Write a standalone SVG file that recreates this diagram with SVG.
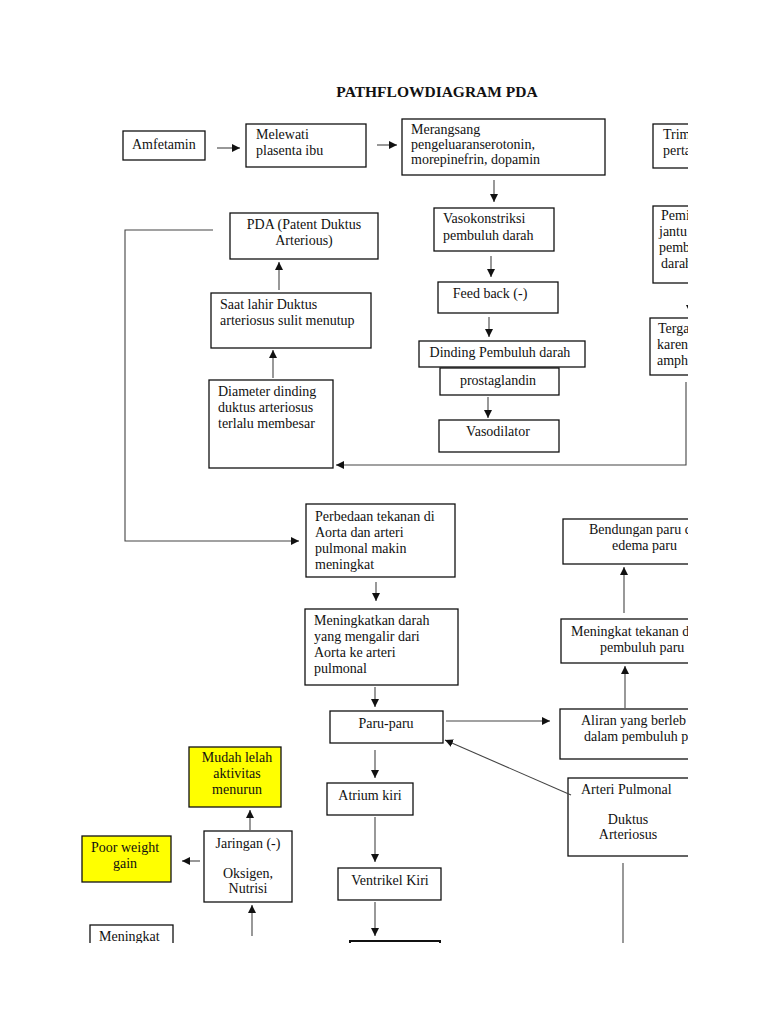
<svg xmlns="http://www.w3.org/2000/svg" width="768" height="1024" viewBox="0 0 768 1024">
<style>
.b{fill:#fff;stroke:#111;stroke-width:1.3}
.y{fill:#ffff00;stroke:#111;stroke-width:1.3}
text{font-family:"Liberation Serif","Times New Roman",serif;font-size:14px;fill:#111}
.c{text-anchor:middle}
.ln{fill:none;stroke:#444;stroke-width:1.1}
.t{font-size:15.5px;font-weight:bold}
</style>
<defs>
<marker id="ah" markerUnits="userSpaceOnUse" markerWidth="10" markerHeight="10" refX="8" refY="4" orient="auto">
<path d="M0,0 L8,4 L0,8 Z" fill="#111"/>
</marker>
<clipPath id="pg"><rect x="0" y="0" width="688" height="943"/></clipPath>
</defs>
<rect width="768" height="1024" fill="#fff"/>
<g clip-path="url(#pg)">
<text class="t c" x="437" y="97">PATHFLOWDIAGRAM PDA</text>

<g id="n-amfetamin"><rect class="b" x="123" y="131" width="82" height="29"/><text x="132" y="149">Amfetamin</text></g>
<g id="n-plasenta"><rect class="b" x="246" y="124" width="120" height="43"/><text x="256" y="139">Melewati</text><text x="256" y="155">plasenta ibu</text></g>
<g id="n-merangsang"><rect class="b" x="402" y="119" width="203" height="56"/><text x="411" y="134">Merangsang</text><text x="411" y="149">pengeluaranserotonin,</text><text x="411" y="164">morepinefrin, dopamin</text></g>
<g id="n-vasokon"><rect class="b" x="434" y="208" width="120" height="43"/><text x="443" y="223">Vasokonstriksi</text><text x="443" y="240">pembuluh darah</text></g>
<g id="n-feedback"><rect class="b" x="438" y="282" width="120" height="31"/><text class="c" x="490" y="298">Feed back (-)</text></g>
<g id="n-dinding"><rect class="b" x="419" y="341" width="166" height="26"/><text class="c" x="500" y="357">Dinding Pembuluh darah</text></g>
<g id="n-prosta"><rect class="b" x="440" y="368" width="119" height="27"/><text class="c" x="498" y="385">prostaglandin</text></g>
<g id="n-vasodil"><rect class="b" x="439" y="420" width="120" height="32"/><text class="c" x="498" y="436">Vasodilator</text></g>

<g id="n-pda"><rect class="b" x="230" y="213" width="148" height="46"/><text class="c" x="304" y="229">PDA (Patent Duktus</text><text class="c" x="304" y="245">Arterious)</text></g>
<g id="n-saat"><rect class="b" x="211" y="293" width="160" height="55"/><text x="220" y="309">Saat lahir Duktus</text><text x="220" y="325">arteriosus sulit menutup</text></g>
<g id="n-diameter"><rect class="b" x="209" y="380" width="124" height="88"/><text x="218" y="396">Diameter dinding</text><text x="218" y="412">duktus arteriosus</text><text x="218" y="428">terlalu membesar</text></g>

<g id="n-trim"><rect class="b" x="653" y="124" width="100" height="44"/><text x="663" y="139">Trim</text><text x="663" y="155">perta</text></g>
<g id="n-pem"><rect class="b" x="653" y="206" width="100" height="77"/><text x="661" y="220">Pemi</text><text x="659" y="236">jantu</text><text x="659" y="252">pemb</text><text x="661" y="268">darah</text></g>
<g id="n-terga"><rect class="b" x="650" y="318" width="100" height="57"/><text x="658" y="333">Terga</text><text x="657" y="349">karen</text><text x="657" y="365">amph</text></g>

<g id="n-perbedaan"><rect class="b" x="306" y="504" width="149" height="73"/><text x="315" y="521">Perbedaan tekanan di</text><text x="315" y="537">Aorta dan arteri</text><text x="315" y="553">pulmonal makin</text><text x="315" y="569">meningkat</text></g>
<g id="n-meningkatkan"><rect class="b" x="305" y="609" width="153" height="76"/><text x="314" y="625">Meningkatkan darah</text><text x="314" y="641">yang mengalir dari</text><text x="314" y="657">Aorta ke arteri</text><text x="314" y="673">pulmonal</text></g>
<g id="n-paru"><rect class="b" x="330" y="711" width="113" height="32"/><text class="c" x="386" y="728">Paru-paru</text></g>
<g id="n-atrium"><rect class="b" x="327" y="783" width="86" height="32"/><text class="c" x="370" y="800">Atrium kiri</text></g>
<g id="n-ventrikel"><rect class="b" x="338" y="868" width="103" height="32"/><text class="c" x="390" y="885">Ventrikel Kiri</text></g>
<g id="n-bottom"><rect class="b" x="350" y="941" width="90" height="40" style="stroke-width:2"/></g>

<g id="n-bendungan"><rect class="b" x="563" y="519" width="200" height="45"/><text x="589" y="534">Bendungan paru d</text><text x="612" y="550">edema paru</text></g>
<g id="n-tekanan"><rect class="b" x="561" y="619" width="200" height="44"/><text x="571" y="636">Meningkat tekanan d</text><text x="600" y="652">pembuluh paru</text></g>
<g id="n-aliran"><rect class="b" x="560" y="709" width="200" height="50"/><text x="581" y="725">Aliran yang berleb</text><text x="584" y="741">dalam pembuluh p</text></g>
<g id="n-arteri"><rect class="b" x="568" y="778" width="200" height="78"/><text x="581" y="794">Arteri Pulmonal</text><text class="c" x="628" y="824">Duktus</text><text class="c" x="628" y="839">Arteriosus</text></g>

<g id="n-mudah"><rect class="y" x="189" y="747" width="92" height="60"/><text class="c" x="237" y="762">Mudah lelah</text><text class="c" x="237" y="778">aktivitas</text><text class="c" x="237" y="794">menurun</text></g>
<g id="n-jaringan"><rect class="b" x="204" y="831" width="88" height="71"/><text class="c" x="248" y="848">Jaringan (-)</text><text class="c" x="248" y="878">Oksigen,</text><text class="c" x="248" y="893">Nutrisi</text></g>
<g id="n-poor"><rect class="y" x="82" y="836" width="89" height="46"/><text class="c" x="125" y="852">Poor weight</text><text class="c" x="125" y="868">gain</text></g>
<g id="n-meningkat"><rect class="b" x="90" y="925" width="83" height="40"/><text x="99" y="941">Meningkat</text></g>

<g id="connectors">
<line class="ln" x1="217" y1="148" x2="240" y2="148" marker-end="url(#ah)"/>
<line class="ln" x1="377" y1="145" x2="397" y2="145" marker-end="url(#ah)"/>
<line class="ln" x1="494" y1="180" x2="494" y2="202" marker-end="url(#ah)"/>
<line class="ln" x1="491" y1="256" x2="491" y2="277" marker-end="url(#ah)"/>
<line class="ln" x1="489" y1="317" x2="489" y2="337" marker-end="url(#ah)"/>
<line class="ln" x1="488" y1="397" x2="488" y2="418" marker-end="url(#ah)"/>
<line class="ln" x1="279" y1="290" x2="279" y2="262" marker-end="url(#ah)"/>
<line class="ln" x1="273" y1="378" x2="273" y2="350" marker-end="url(#ah)"/>
<polyline class="ln" points="686,382 686,465 336,465" marker-end="url(#ah)"/>
<polyline class="ln" points="213,230 125,230 125,541 299,541" marker-end="url(#ah)"/>
<line class="ln" x1="690" y1="296" x2="690" y2="313" marker-end="url(#ah)"/>
<line class="ln" x1="376" y1="582" x2="376" y2="601" marker-end="url(#ah)"/>
<line class="ln" x1="375" y1="687" x2="375" y2="707" marker-end="url(#ah)"/>
<line class="ln" x1="446" y1="721" x2="550" y2="721" marker-end="url(#ah)"/>
<line class="ln" x1="375" y1="750" x2="375" y2="778" marker-end="url(#ah)"/>
<line class="ln" x1="375" y1="817" x2="375" y2="862" marker-end="url(#ah)"/>
<line class="ln" x1="375" y1="902" x2="375" y2="936" marker-end="url(#ah)"/>
<line class="ln" x1="624" y1="613" x2="624" y2="567" marker-end="url(#ah)"/>
<line class="ln" x1="625" y1="708" x2="625" y2="666" marker-end="url(#ah)"/>
<line class="ln" x1="571" y1="795" x2="445" y2="740" marker-end="url(#ah)"/>
<line class="ln" x1="623" y1="863" x2="623" y2="945"/>
<line class="ln" x1="250" y1="830" x2="250" y2="810" marker-end="url(#ah)"/>
<line class="ln" x1="200" y1="861" x2="182" y2="861" marker-end="url(#ah)"/>
<line class="ln" x1="252" y1="936" x2="252" y2="905" marker-end="url(#ah)"/>
</g>
</g>
</svg>
